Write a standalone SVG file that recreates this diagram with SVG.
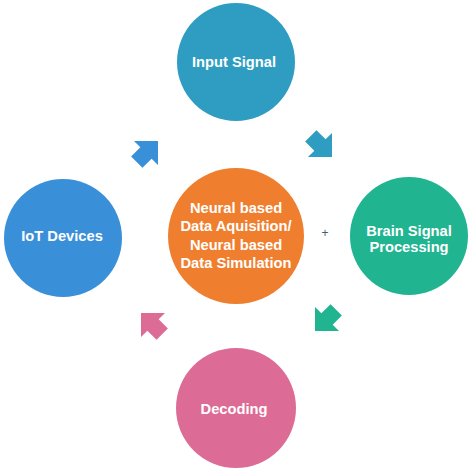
<svg xmlns="http://www.w3.org/2000/svg" width="474" height="474" viewBox="0 0 474 474">
<defs>
<style>
.lbl{font-family:"Liberation Sans",Arial,sans-serif;font-weight:bold;font-size:14.7px;fill:#ffffff;text-anchor:middle}
.plus{font-family:"Liberation Sans",Arial,sans-serif;font-size:12px;fill:#4a5a70;text-anchor:middle}
</style>
<path id="arr" d="M0,0 L-17,-17 L-17,-8 L-30,-8 L-30,8 L-17,8 L-17,17 Z"/>
</defs>
<rect width="474" height="474" fill="#ffffff"/>
<g id="connectors">
<use href="#arr" transform="translate(158,141) rotate(-45)" fill="#3a8fd9"/>
<use href="#arr" transform="translate(332,157) rotate(45)" fill="#2e9dc1"/>
<use href="#arr" transform="translate(315,331) rotate(135)" fill="#20b491"/>
<use href="#arr" transform="translate(141,313) rotate(-135)" fill="#dc6c96"/>
</g>
<g id="input-signal">
<circle cx="236" cy="62" r="59" fill="#2e9dc1"/>
<text class="lbl" x="234" y="67">Input Signal</text>
</g>
<g id="iot-devices">
<circle cx="63" cy="238" r="59" fill="#3a8fd9"/>
<text class="lbl" x="62" y="241">IoT Devices</text>
</g>
<g id="brain-signal-processing">
<circle cx="409" cy="236" r="59" fill="#20b491"/>
<text class="lbl" x="409" y="236">Brain Signal</text>
<text class="lbl" x="409" y="252">Processing</text>
</g>
<g id="decoding">
<circle cx="236" cy="408" r="60" fill="#dc6c96"/>
<text class="lbl" x="234" y="414">Decoding</text>
</g>
<g id="center">
<circle cx="236" cy="236" r="68" fill="#ef7f2f"/>
<text class="lbl" x="236" y="213">Neural based</text>
<text class="lbl" x="236" y="231">Data Aquisition/</text>
<text class="lbl" x="236" y="250">Neural based</text>
<text class="lbl" x="236" y="268">Data Simulation</text>
</g>
<text class="plus" x="325" y="237">+</text>
</svg>
